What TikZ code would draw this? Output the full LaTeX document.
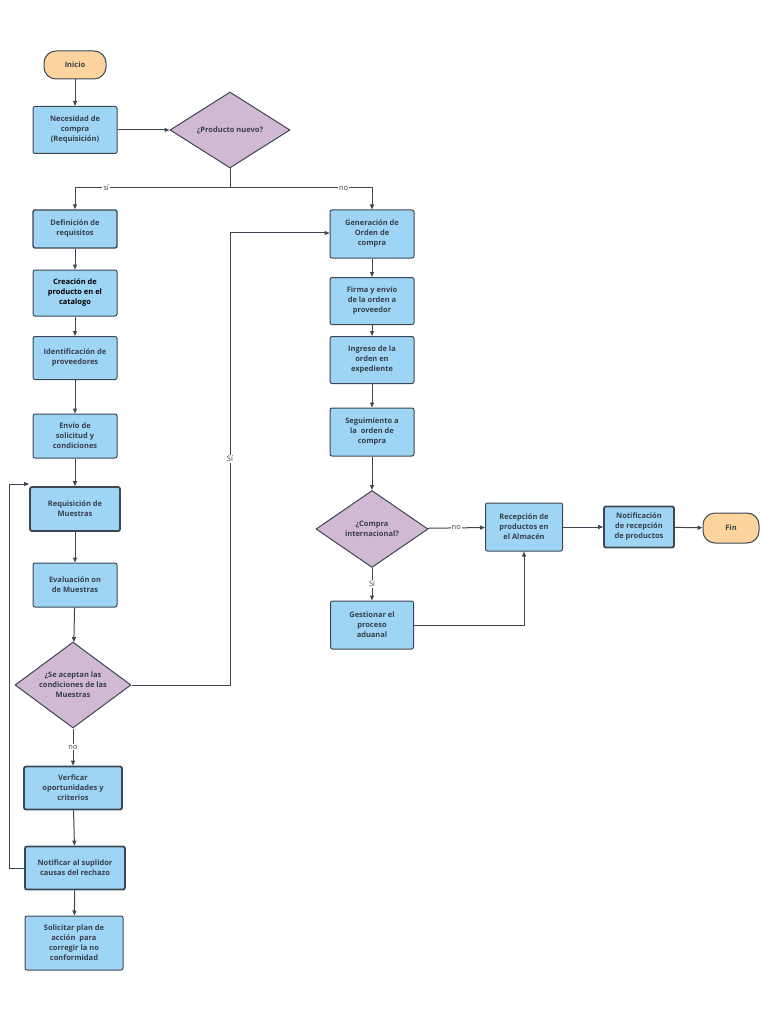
\documentclass[tikz,border=0pt]{standalone}
\usepackage{fontspec}
\setmainfont{Open Sans}
\usetikzlibrary{shapes.geometric,arrows.meta}
\definecolor{bx}{HTML}{9ED5F5}
\definecolor{dm}{HTML}{D1B9D3}
\definecolor{tm}{HTML}{FDD49E}
\definecolor{ln}{HTML}{3D4752}
\begin{document}
\begin{tikzpicture}[x=1pt,y=-1pt,
  every node/.style={font=\fontsize{7.5}{10}\selectfont\bfseries,text=ln!90!black,align=center},
  box/.style={draw=ln,fill=bx,rounded corners=2pt,line width=1pt,inner sep=1pt},
  tbox/.style={box,line width=1.8pt},
  dec/.style={draw=ln,fill=dm,diamond,aspect=1.6,line width=1pt,inner sep=0pt},
  term/.style={draw=ln,fill=tm,rounded corners=12pt,line width=1pt},
  ar/.style={draw=ln,line width=1pt,-{Triangle[length=5pt,width=4pt]}},
  lab/.style={fill=white,inner sep=1pt,font=\fontsize{7.5}{9}\selectfont}]
\useasboundingbox (0,0) rectangle (768,1024);
\node[term,minimum width=62,minimum height=28] (ini) at (75,65) {Inicio};
\node[box,minimum width=84,minimum height=47] (nec) at (75,130) {Necesidad de\\compra\\(Requisición)};
\node[dec,minimum width=120,minimum height=76] (pn) at (230,130) {¿Producto nuevo?};
\node[box,line width=1.4pt,minimum width=84,minimum height=38] (def) at (75,229) {Definición de\\requisitos};
\node[box,minimum width=84,minimum height=46,text=black] (cre) at (75,293) {Creación de\\producto en el\\catalogo};
\node[box,minimum width=84,minimum height=43] (ide) at (75,358) {Identificación de\\proveedores};
\node[box,minimum width=84,minimum height=44] (env) at (75,436) {Envío de\\solicitud y\\condiciones};
\node[tbox,minimum width=90,minimum height=44] (req) at (75,509) {Requisición de\\Muestras};
\node[box,minimum width=84,minimum height=44] (eva) at (75,585) {Evaluación on\\de Muestras};
\node[dec,minimum width=116,minimum height=86] (sea) at (73,685) {¿Se aceptan las\\condiciones de las\\Muestras};
\node[tbox,minimum width=98,minimum height=43] (ver) at (73,788) {Verficar\\oportunidades y\\criterios};
\node[tbox,minimum width=100,minimum height=43] (not) at (75,868) {Notificar al suplidor\\causas del rechazo};
\node[box,minimum width=98,minimum height=54] (sol) at (74,943) {Solicitar plan de\\acción \ para\\corregir la no\\conformidad};
\node[box,minimum width=84,minimum height=48] (gen) at (372,234) {Generación de\\Orden de\\compra};
\node[box,minimum width=84,minimum height=47] (fir) at (372,301) {Firma y envío\\de la orden a\\proveedor};
\node[box,minimum width=84,minimum height=47] (ing) at (372,360) {Ingreso de la\\orden en\\expediente};
\node[box,minimum width=84,minimum height=48] (seg) at (372,432) {Seguimiento a\\la \ orden de\\compra};
\node[dec,minimum width=112,minimum height=77] (ci) at (372,529) {¿Compra\\internacional?};
\node[box,minimum width=77,minimum height=48] (rec) at (524,527) {Recepción de\\productos en\\el Almacén};
\node[box,minimum width=83,minimum height=48] (ges) at (372,625) {Gestionar el\\proceso\\aduanal};
\node[tbox,minimum width=70,minimum height=41] (noti) at (639,527) {Notificación\\de recepción\\de productos};
\node[term,minimum width=56,minimum height=30] (fin) at (731,528) {Fin};
\coordinate (sp) at (230,188);
\coordinate (lp) at (9,484);
\draw[ar] (ini) -- (nec);
\draw[ar] (nec) -- (pn);
\draw[draw=ln,line width=1pt] (pn.south) -- (sp);
\draw[ar] (sp) -| node[lab,pos=0.4]{sí} (def.north);
\draw[ar] (sp) -| node[lab,pos=0.4]{no} (gen.north);
\draw[ar] (def) -- (cre);
\draw[ar] (cre) -- (ide);
\draw[ar] (ide) -- (env);
\draw[ar] (env) -- (req);
\draw[ar] (req) -- (eva);
\draw[ar] (eva) -- (sea);
\draw[ar] (sea) -- node[lab]{no} (ver);
\draw[ar] (ver) -- (not);
\draw[ar] (not) -- (sol);
\draw[ar] (not.west) -| (lp) -- (lp -| req.west);
\draw[ar] (sea.east) -| node[lab,pos=0.75]{Sí} (230,233) -- (gen.west |- 0,233);
\draw[ar] (gen) -- (fir);
\draw[ar] (fir) -- (ing);
\draw[ar] (ing) -- (seg);
\draw[ar] (seg) -- (ci);
\draw[ar] (ci) -- node[lab]{no} (rec);
\draw[ar] (ci) -- node[lab]{Si} (ges);
\draw[ar] (ges.east) -| (rec.south);
\draw[ar] (rec) -- (noti);
\draw[ar] (noti) -- (fin);
\end{tikzpicture}
\end{document}
